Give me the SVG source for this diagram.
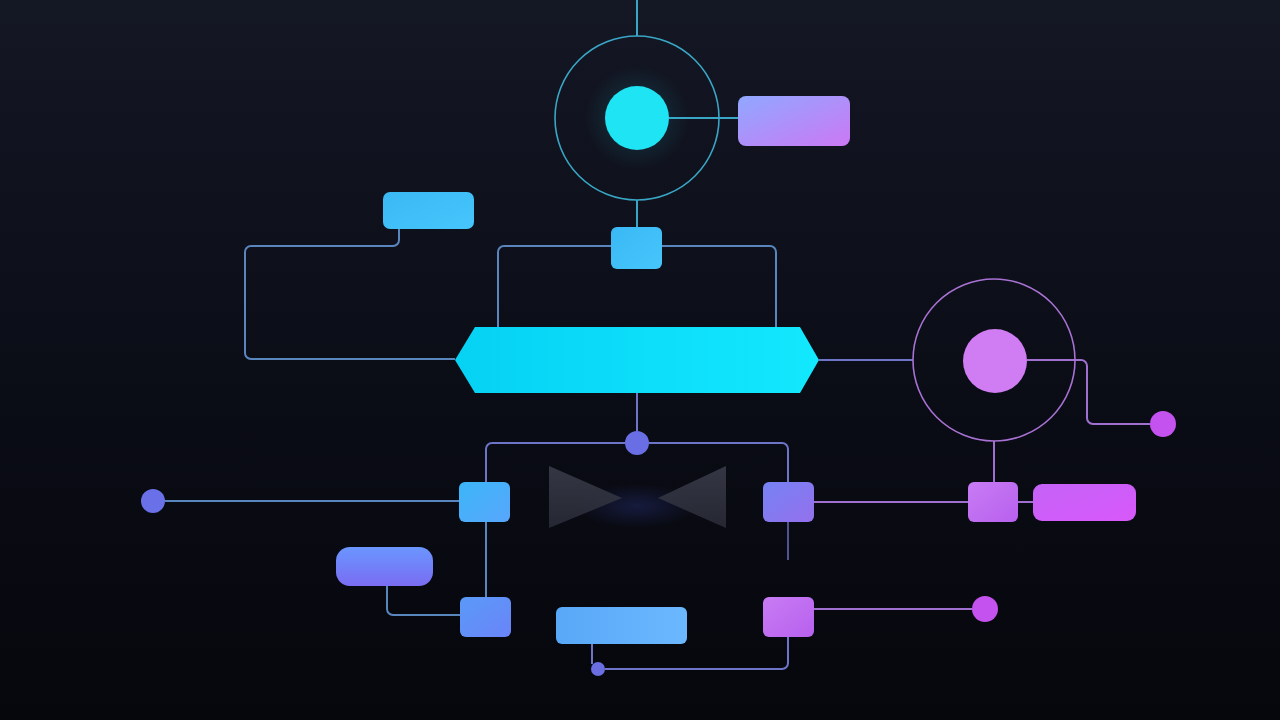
<svg xmlns="http://www.w3.org/2000/svg" width="1280" height="720" viewBox="0 0 1280 720">
<defs>
<linearGradient id="bg" x1="0" y1="0" x2="0" y2="1">
<stop offset="0" stop-color="#141724"/>
<stop offset="0.5" stop-color="#0b0d17"/>
<stop offset="1" stop-color="#06070c"/>
</linearGradient>
<radialGradient id="glowC" cx="0.5" cy="0.5" r="0.5">
<stop offset="0" stop-color="#1ee4f4" stop-opacity="0.18"/>
<stop offset="1" stop-color="#1ee4f4" stop-opacity="0"/>
</radialGradient>
<radialGradient id="glowTie" cx="0.5" cy="0.5" r="0.5">
<stop offset="0" stop-color="#1c2250" stop-opacity="0.7"/>
<stop offset="1" stop-color="#1c2250" stop-opacity="0"/>
</radialGradient>
<linearGradient id="gPurpBlue" x1="0" y1="0" x2="1" y2="1">
<stop offset="0" stop-color="#90a8ff"/>
<stop offset="1" stop-color="#cc78f4"/>
</linearGradient>
<linearGradient id="gCyan" x1="0" y1="0" x2="1" y2="1">
<stop offset="0" stop-color="#3ab8f4"/>
<stop offset="1" stop-color="#46c6fc"/>
</linearGradient>
<linearGradient id="gHex" x1="0" y1="0" x2="1" y2="0">
<stop offset="0" stop-color="#06d2f4"/>
<stop offset="1" stop-color="#12e8fe"/>
</linearGradient>
<linearGradient id="gBlueSq" x1="0" y1="0" x2="1" y2="1">
<stop offset="0" stop-color="#3cb6f8"/>
<stop offset="1" stop-color="#58a6fc"/>
</linearGradient>
<linearGradient id="gBlueSq2" x1="0" y1="0" x2="1" y2="1">
<stop offset="0" stop-color="#5a9af8"/>
<stop offset="1" stop-color="#6a84f8"/>
</linearGradient>
<linearGradient id="gPill" x1="0" y1="0" x2="0" y2="1">
<stop offset="0" stop-color="#6a96ff"/>
<stop offset="1" stop-color="#7a6cf2"/>
</linearGradient>
<linearGradient id="gRectB" x1="0" y1="0" x2="1" y2="0">
<stop offset="0" stop-color="#58a8f8"/>
<stop offset="1" stop-color="#6cb8ff"/>
</linearGradient>
<linearGradient id="gViolet" x1="0" y1="0" x2="1" y2="1">
<stop offset="0" stop-color="#7682f4"/>
<stop offset="1" stop-color="#9470ec"/>
</linearGradient>
<linearGradient id="gPink" x1="0" y1="0" x2="1" y2="1">
<stop offset="0" stop-color="#c87cf4"/>
<stop offset="1" stop-color="#b860ee"/>
</linearGradient>
<linearGradient id="gMag" x1="0" y1="0" x2="1" y2="1">
<stop offset="0" stop-color="#c462f6"/>
<stop offset="1" stop-color="#d858fa"/>
</linearGradient>
<linearGradient id="gTri" x1="0" y1="0" x2="0" y2="1">
<stop offset="0" stop-color="#3c3f4c"/>
<stop offset="1" stop-color="#2a2c38"/>
</linearGradient>
</defs>
<style>
.ln{fill:none;stroke-width:2;stroke-linejoin:round}
.cy{stroke:#3aa6c6}
.bl{stroke:#5a86be}
.vi{stroke:#6e74c8}
.pu{stroke:#a070d0}
.ring{fill:none;stroke-width:1.6}
</style>
<rect width="1280" height="720" fill="url(#bg)"/>

<g id="connectors">
<path class="ln cy" d="M637 0V36"/>
<path class="ln cy" d="M669 118H738"/>
<path class="ln cy" d="M637 200V227"/>
<path class="ln bl" d="M611 246H504a6 6 0 0 0-6 6V327"/>
<path class="ln bl" d="M662 246H770a6 6 0 0 1 6 6V327"/>
<path class="ln bl" d="M399 229V240a6 6 0 0 1-6 6H251a6 6 0 0 0-6 6V353a6 6 0 0 0 6 6H455"/>
<path class="ln vi" d="M819 360H913"/>
<path class="ln pu" d="M1027 360H1081a6 6 0 0 1 6 6V418a6 6 0 0 0 6 6H1150"/>
<path class="ln pu" d="M994 441V482"/>
<path class="ln pu" d="M1018 502H1033"/>
<path class="ln pu" d="M814 502H968"/>
<path class="ln vi" d="M637 393V431"/>
<path class="ln vi" d="M625 443H492a6 6 0 0 0-6 6V482"/>
<path class="ln vi" d="M649 443H782a6 6 0 0 1 6 6V482"/>
<path class="ln bl" d="M165 501H459"/>
<path class="ln bl" d="M486 522V597"/>
<path class="ln bl" d="M387 586V609a6 6 0 0 0 6 6H460"/>
<path class="ln vi" d="M788 522V560" stroke-opacity="0.7"/>
<path class="ln pu" d="M814 609H972"/>
<path class="ln vi" d="M788 637V663a6 6 0 0 1-6 6H605"/>
<path class="ln vi" d="M592 644V664"/>
</g>

<g id="bowtie">
<ellipse cx="637" cy="506" rx="60" ry="22" fill="url(#glowTie)"/>
<polygon points="549,466 622,498 549,528" fill="url(#gTri)" opacity="0.85"/>
<polygon points="726,466 658,498 726,528" fill="url(#gTri)" opacity="0.85"/>
</g>

<g id="top-hub">
<circle cx="637" cy="118" r="82" class="ring" stroke="#3aa6c6"/>
<circle cx="637" cy="118" r="52" fill="url(#glowC)"/>
<circle cx="637" cy="118" r="32" fill="#1ee4f4"/>
</g>
<g id="top-right-rect"><rect x="738" y="96" width="112" height="50" rx="8" fill="url(#gPurpBlue)"/></g>
<g id="top-square"><rect x="611" y="227" width="51" height="42" rx="6" fill="url(#gCyan)"/></g>
<g id="left-top-rect"><rect x="383" y="192" width="91" height="37" rx="7" fill="url(#gCyan)"/></g>
<g id="hexagon"><polygon points="455,360 475,327 800,327 819,360 800,393 475,393" fill="url(#gHex)"/></g>

<g id="purple-hub">
<circle cx="994" cy="360" r="81" class="ring" stroke="#a872d4"/>
<circle cx="995" cy="361" r="32" fill="#d07cf2"/>
</g>
<g id="purple-dot-right"><circle cx="1163" cy="424" r="13" fill="#c452ee"/></g>
<g id="purple-square-r"><rect x="968" y="482" width="50" height="40" rx="6" fill="url(#gPink)"/></g>
<g id="purple-rect-r"><rect x="1033" y="484" width="103" height="37" rx="9" fill="url(#gMag)"/></g>

<g id="center-dot"><circle cx="637" cy="443" r="12" fill="#6a6ee4"/></g>
<g id="left-dot"><circle cx="153" cy="501" r="12" fill="#6a70e8"/></g>
<g id="blue-square-1"><rect x="459" y="482" width="51" height="40" rx="6" fill="url(#gBlueSq)"/></g>
<g id="violet-square"><rect x="763" y="482" width="51" height="40" rx="6" fill="url(#gViolet)"/></g>
<g id="pill"><rect x="336" y="547" width="97" height="39" rx="14" fill="url(#gPill)"/></g>
<g id="blue-square-2"><rect x="460" y="597" width="51" height="40" rx="6" fill="url(#gBlueSq2)"/></g>
<g id="bottom-rect"><rect x="556" y="607" width="131" height="37" rx="6" fill="url(#gRectB)"/></g>
<g id="pink-square"><rect x="763" y="597" width="51" height="40" rx="6" fill="url(#gPink)"/></g>
<g id="pink-dot"><circle cx="985" cy="609" r="13" fill="#c452ee"/></g>
<g id="bottom-dot"><circle cx="598" cy="669" r="7" fill="#6a6ee0"/></g>
</svg>
